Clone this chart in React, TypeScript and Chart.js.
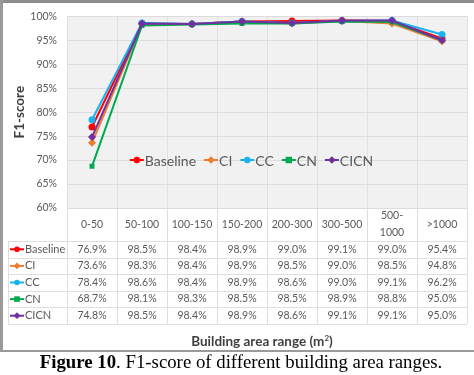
import React, { useEffect, useRef } from 'react';
import { Chart, registerables } from 'chart.js';
Chart.register(...registerables);

const categories = ['0-50', '50-100', '100-150', '150-200', '200-300', '300-500', '500-1000', '>1000'];
const categoryLines = [['0-50'], ['50-100'], ['100-150'], ['150-200'], ['200-300'], ['300-500'], ['500-', '1000'], ['>1000']];
const seriesNames = ['Baseline', 'CI', 'CC', 'CN', 'CICN'];
const baseline = [76.9, 98.5, 98.4, 98.9, 99.0, 99.1, 99.0, 95.4];
const ci = [73.6, 98.3, 98.4, 98.9, 98.5, 99.0, 98.5, 94.8];
const cc = [78.4, 98.6, 98.4, 98.9, 98.6, 99.0, 99.1, 96.2];
const cn = [68.7, 98.1, 98.3, 98.5, 98.5, 98.9, 98.8, 95.0];
const cicn = [74.8, 98.5, 98.4, 98.9, 98.6, 99.1, 99.1, 95.0];
const seriesValues = [baseline, ci, cc, cn, cicn];
const seriesColors = ['#FF0000', '#ED7D31', '#1AB2F0', '#00A850', '#7030A0'];
const seriesMarkers = ['circle', 'rectRot', 'circle', 'rect', 'rectRot'];
const yMin = 60;
const yMax = 100;
const yStep = 5;

const FONT = 'Lato, "Noto Sans", sans-serif';
const TXT = '#595959';

function drawMarker(ctx: CanvasRenderingContext2D, shape: string, x: number, y: number, r: number, color: string) {
  ctx.fillStyle = color;
  ctx.beginPath();
  if (shape === 'circle') {
    ctx.arc(x, y, r, 0, Math.PI * 2);
  } else if (shape === 'rect') {
    ctx.rect(x - r, y - r, r * 2, r * 2);
  } else {
    ctx.moveTo(x, y - r * 1.2);
    ctx.lineTo(x + r * 1.2, y);
    ctx.lineTo(x, y + r * 1.2);
    ctx.lineTo(x - r * 1.2, y);
    ctx.closePath();
  }
  ctx.fill();
}

function drawKey(ctx: CanvasRenderingContext2D, i: number, x: number, y: number, w: number, r: number) {
  ctx.strokeStyle = seriesColors[i];
  ctx.lineWidth = 2;
  ctx.beginPath();
  ctx.moveTo(x, y);
  ctx.lineTo(x + w, y);
  ctx.stroke();
  drawMarker(ctx, seriesMarkers[i], x + w / 2, y, r, seriesColors[i]);
}

const decorPlugin = {
  id: 'decor',
  beforeDraw(chart: any) {
    const { ctx, chartArea: a } = chart;
    ctx.save();
    ctx.fillStyle = '#ffffff';
    ctx.fillRect(0, 0, chart.width, chart.height);
    ctx.fillStyle = '#f1f1f1';
    ctx.fillRect(a.left, a.top, a.right - a.left, a.bottom - a.top);
    ctx.restore();
  },
  afterDraw(chart: any) {
    const { ctx, chartArea: a } = chart;
    const xs = chart.scales.x;
    const n = categories.length;
    const colW = (a.right - a.left) / n;
    const headerBottom = a.bottom + 33;
    const rowH = 16.6;
    const tableBottom = headerBottom + rowH * seriesNames.length;
    const tableLeft = 8;
    ctx.save();

    // table grid
    ctx.strokeStyle = '#dedede';
    ctx.lineWidth = 1;
    ctx.beginPath();
    for (let k = 0; k <= n; k++) {
      const x = Math.round(a.left + k * colW) + 0.5;
      ctx.moveTo(x, a.bottom);
      ctx.lineTo(x, tableBottom);
    }
    ctx.moveTo(tableLeft + 0.5, headerBottom);
    ctx.lineTo(tableLeft + 0.5, tableBottom);
    for (let r = 0; r <= seriesNames.length; r++) {
      const y = Math.round(headerBottom + r * rowH) + 0.5;
      ctx.moveTo(tableLeft, y);
      ctx.lineTo(a.right, y);
    }
    ctx.stroke();

    // header labels
    ctx.fillStyle = TXT;
    ctx.font = `10.5px ${FONT}`;
    ctx.textAlign = 'center';
    ctx.textBaseline = 'middle';
    categoryLines.forEach((lines, k) => {
      const x = xs.getPixelForValue(k);
      const cy = (a.bottom + headerBottom) / 2;
      if (lines.length === 1) ctx.fillText(lines[0], x, cy);
      else {
        ctx.fillText(lines[0], x, cy - 9);
        ctx.fillText(lines[1], x, cy + 8);
      }
    });

    // rows
    seriesNames.forEach((name, i) => {
      const cy = headerBottom + rowH * (i + 0.5);
      drawKey(ctx, i, 10, cy, 14, 2.8);
      ctx.fillStyle = TXT;
      ctx.font = `11px ${FONT}`;
      ctx.textAlign = 'left';
      ctx.fillText(name, 25, cy);
      ctx.textAlign = 'center';
      ctx.font = `10.5px ${FONT}`;
      seriesValues[i].forEach((v, k) => {
        ctx.fillText(v.toFixed(1) + '%', xs.getPixelForValue(k), cy);
      });
    });

    // legend inside plot
    ctx.font = `14px ${FONT}`;
    ctx.textAlign = 'left';
    const keyW = 14;
    const gap = 9;
    let total = 0;
    seriesNames.forEach((nm) => { total += keyW + ctx.measureText(nm).width + gap; });
    total -= gap;
    let lx = 251 - total / 2;
    const ly = 160;
    seriesNames.forEach((nm, i) => {
      drawKey(ctx, i, lx, ly, keyW, 3.2);
      ctx.fillStyle = TXT;
      ctx.fillText(nm, lx + keyW + 1, ly + 1);
      lx += keyW + ctx.measureText(nm).width + gap;
    });

    // y axis title
    ctx.save();
    ctx.translate(20, (a.top + a.bottom) / 2);
    ctx.rotate(-Math.PI / 2);
    ctx.font = `bold 13.5px ${FONT}`;
    ctx.fillStyle = '#404040';
    ctx.textAlign = 'center';
    ctx.fillText('F1-score', 0, 0);
    ctx.restore();

    // x axis title
    ctx.font = `bold 13.5px ${FONT}`;
    ctx.fillStyle = '#404040';
    ctx.textAlign = 'center';
    const t1 = 'Building area range (m';
    const w1 = ctx.measureText(t1).width;
    ctx.font = `bold 8px ${FONT}`;
    const wSup = ctx.measureText('2').width;
    ctx.font = `bold 13.5px ${FONT}`;
    const w3 = ctx.measureText(')').width;
    const tw = w1 + wSup + w3;
    const tx = 262 - tw / 2;
    ctx.textAlign = 'left';
    ctx.fillText(t1, tx, 342);
    ctx.font = `bold 8px ${FONT}`;
    ctx.fillText('2', tx + w1, 338);
    ctx.font = `bold 13.5px ${FONT}`;
    ctx.fillText(')', tx + w1 + wSup, 342);

    // frame
    ctx.fillStyle = '#8c8c8c';
    ctx.fillRect(0, 0, chart.width, 3);
    ctx.fillStyle = '#9a9a9a';
    ctx.fillRect(0, 0, 3, 352);
    ctx.fillRect(0, 350, chart.width, 2);

    // caption
    const CF = '"Liberation Serif", "Times New Roman", serif';
    ctx.fillStyle = '#000';
    ctx.textBaseline = 'alphabetic';
    ctx.font = `bold 18.8px ${CF}`;
    const c1 = 'Figure 10';
    const cw1 = ctx.measureText(c1).width;
    ctx.font = `18.8px ${CF}`;
    const c2 = '. F1-score of different building area ranges.';
    const cw2 = ctx.measureText(c2).width;
    const cx = 241 - (cw1 + cw2) / 2;
    ctx.font = `bold 18.8px ${CF}`;
    ctx.fillText(c1, cx, 368);
    ctx.font = `18.8px ${CF}`;
    ctx.fillText(c2, cx + cw1, 368);

    ctx.restore();
  },
};

export default function App() {
  const ref = useRef<HTMLCanvasElement>(null);
  useEffect(() => {
    if (!ref.current) return;
    const chart = new Chart(ref.current, {
      type: 'line',
      data: {
        labels: categories,
        datasets: seriesNames.map((name, i) => ({
          label: name,
          data: seriesValues[i],
          borderColor: seriesColors[i],
          backgroundColor: seriesColors[i],
          borderWidth: 2,
          pointStyle: seriesMarkers[i] as any,
          pointRadius: seriesMarkers[i] === 'rectRot' ? 4 : 3.5,
          pointBorderWidth: 0,
          tension: 0,
          order: seriesNames.length - i,
        })),
      },
      options: {
        animation: false,
        responsive: false,
        devicePixelRatio: 1,
        layout: { padding: { top: 8, right: 7, bottom: 167, left: 0 } },
        plugins: { legend: { display: false }, tooltip: { enabled: false } },
        scales: {
          x: {
            offset: true,
            grid: { offset: true, color: '#e0e0e0', drawTicks: false },
            border: { display: false },
            ticks: { display: false },
            afterFit: (s: any) => { s.height = 0; },
          },
          y: {
            min: yMin,
            max: yMax,
            grid: { color: '#dcdcdc', drawTicks: false },
            border: { display: false },
            ticks: {
              stepSize: yStep,
              padding: 10,
              color: TXT,
              font: { family: FONT, size: 10.5 },
              callback: (v: any) => v + '%',
            },
            afterFit: (s: any) => { s.width = 67; },
          },
        },
      },
      plugins: [decorPlugin],
    });
    return () => chart.destroy();
  }, []);
  return (
    <div style={{ position: 'fixed', left: 0, top: 0, width: 474, height: 375, background: '#fff' }}>
      <canvas ref={ref} width={474} height={375} style={{ display: 'block' }} />
    </div>
  );
}
